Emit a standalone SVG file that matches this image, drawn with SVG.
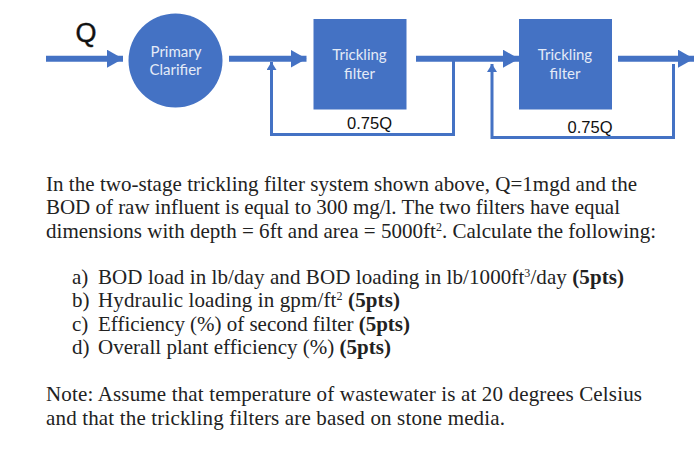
<svg xmlns="http://www.w3.org/2000/svg" width="700" height="458" viewBox="0 0 700 458">
<style>
.shape{fill:#4472c4}
.nl{font-family:"Lato","Open Sans",sans-serif;font-size:15px;fill:#e4ebf7;text-anchor:middle}
.lb{font-family:"Liberation Sans",Arial,sans-serif;font-size:16.500px;fill:#111;text-anchor:middle}
.t{font-family:"Liberation Serif","Times New Roman",serif;font-size:21px;fill:#222}
.b{font-weight:bold}
.main{fill:none;stroke:#4472c4;stroke-width:6}
.fb{fill:none;stroke:#4472c4;stroke-width:3}
</style>
<defs>
<marker id="big" markerUnits="userSpaceOnUse" markerWidth="16" markerHeight="18" refX="16" refY="9" orient="auto"><path d="M0 0L16 9L0 18Z" fill="#4472c4"/></marker>
<marker id="small" markerUnits="userSpaceOnUse" markerWidth="8" markerHeight="10" refX="8" refY="5" orient="auto"><path d="M0 0L8 5L0 10Z" fill="#4472c4"/></marker>
</defs>
<g id="connectors">
<path class="main" d="M46 58.700H123" marker-end="url(#big)"/>
<path class="main" d="M229 58.700H306.500" marker-end="url(#big)"/>
<path class="main" d="M416 58.700H519" marker-end="url(#big)"/>
<path class="main" d="M618 58.700H694" marker-end="url(#big)"/>
<path class="fb" d="M453.500 60V134.500H271.500V62" marker-end="url(#small)"/>
<path class="fb" d="M673.500 64V137.500H492V64" marker-end="url(#small)"/>
</g>
<g id="q-label"><text x="86" y="42" font-family="Liberation Sans,Arial,sans-serif" font-size="27" fill="#111" stroke="#111" stroke-width="0.4" text-anchor="middle">Q</text></g>
<g id="primary-clarifier">
<circle class="shape" cx="175.500" cy="60.500" r="47"/>
<text class="nl" x="176" y="56.500">Primary</text>
<text class="nl" x="175.500" y="75">Clarifier</text>
</g>
<g id="trickling-filter-1">
<rect class="shape" x="313.500" y="19" width="93" height="90.500"/>
<text class="nl" x="359.500" y="60">Trickling</text>
<text class="nl" x="359.500" y="79">filter</text>
</g>
<g id="trickling-filter-2">
<rect class="shape" x="519" y="19" width="93" height="90.500"/>
<text class="nl" x="565" y="60">Trickling</text>
<text class="nl" x="565" y="79">filter</text>
</g>
<g id="flow-labels">
<text class="lb" x="369.500" y="129">0.75Q</text>
<text class="lb" x="590" y="133">0.75Q</text>
</g>
<g id="question">
<text class="t" x="46" y="191" textLength="591" lengthAdjust="spacing">In the two-stage trickling filter system shown above, Q=1mgd and the</text>
<text class="t" x="46" y="214" textLength="574" lengthAdjust="spacing">BOD of raw influent is equal to 300 mg/l. The two filters have equal</text>
<text class="t" x="46" y="238" textLength="610" lengthAdjust="spacing">dimensions with depth = 6ft and area = 5000ft<tspan font-size="12" dy="-7">2</tspan><tspan dy="7">. Calculate the following:</tspan></text>
<text class="t" x="72" y="284">a)</text>
<text class="t" x="98" y="284" textLength="526" lengthAdjust="spacing">BOD load in lb/day and BOD loading in lb/1000ft<tspan font-size="12" dy="-7">3</tspan><tspan dy="7">/day </tspan><tspan class="b">(5pts)</tspan></text>
<text class="t" x="72" y="307">b)</text>
<text class="t" x="98" y="307" textLength="302" lengthAdjust="spacing">Hydraulic loading in gpm/ft<tspan font-size="12" dy="-7">2</tspan><tspan dy="7"> </tspan><tspan class="b">(5pts)</tspan></text>
<text class="t" x="72" y="331">c)</text>
<text class="t" x="98" y="331" textLength="312" lengthAdjust="spacing">Efficiency (%) of second filter <tspan class="b">(5pts)</tspan></text>
<text class="t" x="72" y="354">d)</text>
<text class="t" x="98" y="354" textLength="293" lengthAdjust="spacing">Overall plant efficiency (%) <tspan class="b">(5pts)</tspan></text>
<text class="t" x="46" y="401" textLength="596" lengthAdjust="spacing">Note: Assume that temperature of wastewater is at 20 degrees Celsius</text>
<text class="t" x="46" y="425" textLength="459" lengthAdjust="spacing">and that the trickling filters are based on stone media.</text>
</g>
</svg>
